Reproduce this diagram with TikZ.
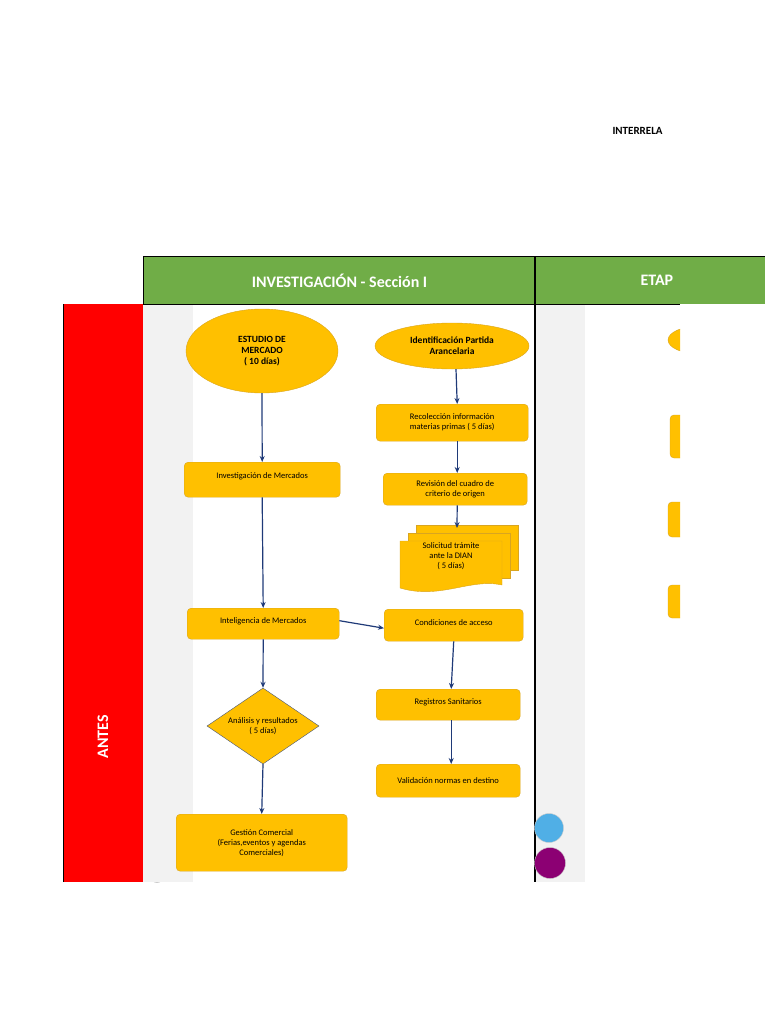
\documentclass[tikz,border=0pt]{standalone}
\usepackage{fontspec}
\setmainfont{Carlito}
\usetikzlibrary{shapes.geometric,arrows.meta}
\definecolor{gold}{HTML}{FFC000}
\definecolor{goldline}{HTML}{D9A520}
\definecolor{hgreen}{HTML}{70AD47}
\definecolor{navy}{HTML}{1F3A78}
\definecolor{lgrey}{HTML}{F2F2F2}
\begin{document}
\begin{tikzpicture}[x=1pt,y=-1pt,
  box/.style={draw=goldline,fill=gold,rounded corners=4pt,font=\fontsize{8.5}{10}\selectfont,align=center,inner sep=2pt},
  arr/.style={draw=navy,line width=1.2pt,-{Stealth[length=6pt,width=5pt]}},
  side/.style={draw=goldline,fill=gold}]
\useasboundingbox (0,0) rectangle (768,1024);
% background bands
\fill[red] (63,304) rectangle (143,882);
\fill[lgrey] (143,304) rectangle (193,882);
\fill[lgrey] (535,304) rectangle (585,882);
\draw[black,line width=1pt] (63,304) -- (63,882);
\draw[black,line width=1pt] (143,256) -- (143,304);
\node[rotate=90,text=white,font=\bfseries\fontsize{16}{18}\selectfont] (antes) at (103,737) {ANTES};
% headers
\node[draw=black,line width=1pt,fill=hgreen,minimum width=392pt,minimum height=48pt,anchor=north west,inner sep=0pt,text=white,font=\bfseries\fontsize{16}{18}\selectfont] (h1) at (143,256) {INVESTIGACIÓN - Sección I};
\fill[hgreen] (535,256) rectangle (765,304);
\draw[black,line width=1pt] (535,256) -- (765,256);
\draw[black,line width=1pt] (535,304) -- (680,304);
\node[text=white,font=\bfseries\fontsize{16}{18}\selectfont,anchor=west] (h2) at (637,280) {ETAP};
\draw[black,line width=1.2pt] (535,256) -- (535,882);
\node[font=\bfseries\fontsize{11}{13}\selectfont,anchor=west] (title) at (609,131) {INTERRELA};
% clipped partial shapes at right edge
\begin{scope}
\clip (585,300) rectangle (680,890);
\draw[side] (700,340) ellipse (32pt and 14pt);
\draw[side,rounded corners=4pt] (670,415) rectangle (720,458);
\draw[side,rounded corners=4pt] (668,502) rectangle (720,537);
\draw[side,rounded corners=4pt] (668,585) rectangle (720,618);
\end{scope}
% circles
\node[circle,fill=cyan!80!blue!70,draw=gray!40,minimum size=29pt,inner sep=0pt] (c1) at (549,828) {};
\node[circle,fill=violet!80!purple,draw=gray!40,minimum size=31pt,inner sep=0pt] (c2) at (550,863) {};
% left column
\node[ellipse,draw=goldline,fill=gold,minimum width=152pt,minimum height=84pt,font=\bfseries\fontsize{9.5}{11}\selectfont,align=center] (e1) at (262,351) {\raisebox{8pt}{\parbox{60pt}{\centering ESTUDIO DE\\ MERCADO\\ ( 10 días)}}};
\node[box,minimum width=156pt,minimum height=35pt,anchor=north west] (inv) at (184,462) {\raisebox{8pt}{Investigación de Mercados}};
\node[box,minimum width=152pt,minimum height=31pt,anchor=north west] (intel) at (187,608) {\raisebox{6pt}{Inteligencia de Mercados}};
\node[diamond,draw=navy!60!gray,fill=gold,minimum width=112pt,minimum height=76pt,inner sep=0pt,aspect=1.5,font=\fontsize{8.5}{10}\selectfont,align=center] (dia) at (263,726) {Análisis y resultados\\ ( 5 días)};
\node[box,minimum width=171pt,minimum height=57pt,anchor=north west] (ges) at (176,814) {Gestión Comercial\\ (Ferias,eventos y agendas\\ Comerciales)};
% right column
\node[ellipse,draw=goldline,fill=gold,minimum width=154pt,minimum height=46pt,font=\bfseries\fontsize{9.5}{11}\selectfont,align=center] (e2) at (452,346) {Identificación Partida\\ Arancelaria};
\node[box,minimum width=152pt,minimum height=37pt,anchor=north west] (rec) at (376,404) {Recolección información\\ materias primas ( 5 días)};
\node[box,minimum width=144pt,minimum height=32pt,anchor=north west] (rev) at (383,473) {Revisión del cuadro de\\ criterio de origen};
% document stack
\foreach \d in {16,8} {
  \draw[side] (400+\d,533-\d+8) -- (502+\d,533-\d+8) -- (502+\d,578-\d+8) -- (400+\d,578-\d+8) -- cycle;
}
\draw[side] (400,541) -- (502,541) -- (502,585) .. controls (470,578) and (440,600) .. (400,588) -- cycle;
\node[font=\fontsize{8.5}{10}\selectfont,align=center] (sol) at (451,556) {Solicitud trámite\\ ante la DIAN\\ ( 5 días)};
\coordinate (soltop) at (457,528);
\node[box,minimum width=139pt,minimum height=32pt,anchor=north west] (cond) at (384,609) {\raisebox{6pt}{Condiciones de acceso}};
\node[box,minimum width=144pt,minimum height=31pt,anchor=north west] (reg) at (376,689) {\raisebox{6pt}{Registros Sanitarios}};
\node[box,minimum width=144pt,minimum height=33pt,anchor=north west] (val) at (376,764) {Validación normas en destino};
% arrows
\draw[arr] (e1.south) -- (inv.north);
\draw[arr] (inv.south) -- (intel.north);
\draw[arr] (intel.south) -- (dia.north);
\draw[arr] (dia.south) -- (ges.north);
\draw[arr] (intel.east) ++(0,-3) -- ([yshift=-3pt]cond.west);
\draw[arr] ([xshift=4pt]e2.south) -- ([xshift=5pt]rec.north);
\draw[arr] ([xshift=5pt]rec.south) -- ([xshift=2pt]rev.north);
\draw[arr] ([xshift=2pt]rev.south) -- (soltop);
\draw[arr] (cond.south) -- ([xshift=3pt]reg.north);
\draw[arr] ([xshift=3pt]reg.south) -- ([xshift=3pt]val.north);
\fill[gray!40] (157,888) circle (6pt);
\fill[white] (140,883) rectangle (200,900);
\end{tikzpicture}
\end{document}
